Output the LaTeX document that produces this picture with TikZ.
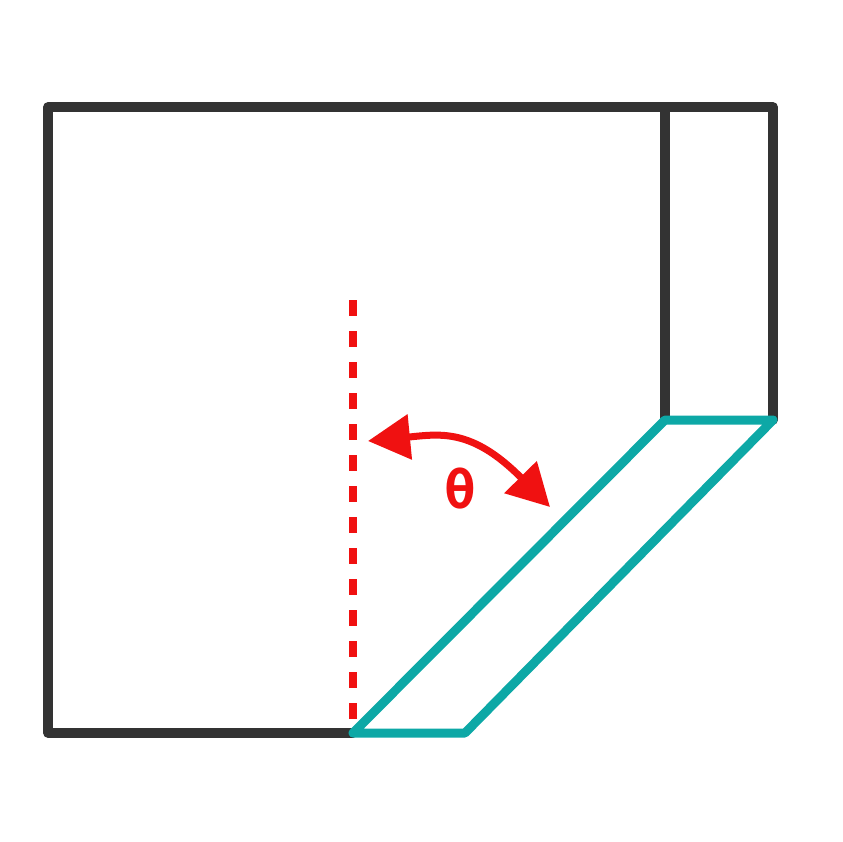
\documentclass[tikz,border=0pt]{standalone}
\usepackage{fontspec}
\newfontfamily\thetafont{DejaVu Sans Mono}
\usetikzlibrary{arrows.meta}
\definecolor{framegray}{RGB}{51,51,51}
\definecolor{stripteal}{RGB}{13,168,166}
\definecolor{anglered}{RGB}{240,17,17}
\tikzset{
  frameline/.style={draw=framegray, line width=0.095cm, line join=round, line cap=round},
  stripline/.style={draw=stripteal, line width=0.09cm, line join=round, line cap=round},
  axisline/.style={draw=anglered, line width=0.08cm, dash pattern=on 0.16cm off 0.15cm},
  anglearrow/.style={draw=anglered, line width=0.07cm, {Triangle[length=0.42cm,width=0.44cm]}-{Triangle[length=0.42cm,width=0.44cm]}},
  anglelabel/.style={text=anglered, font=\thetafont\bfseries\fontsize{15}{15}\selectfont, inner sep=0pt}
}
\begin{document}
\begin{tikzpicture}[x=0.01cm,y=-0.01cm]
\useasboundingbox (0,0) rectangle (842,842);
\coordinate (bl) at (48,733);
\coordinate (tl) at (48,107);
\coordinate (tr) at (773,107);
\coordinate (tm) at (665,107);
\coordinate (hinge) at (353,733);
\coordinate (fl) at (665,420);
\coordinate (fr) at (773,420);
\coordinate (sb) at (465,733);
\coordinate (axtop) at (353,300);
\coordinate (arA) at (368,441);
\coordinate (arB) at (550,507);
% frame
\draw[frameline] (hinge) -- (bl) -- (tl) -- (tr) -- (fr);
\draw[frameline] (tm) -- (fl);
% folded strip
\draw[stripline] (hinge) -- (fl) -- (fr) -- (sb) -- cycle;
% axis
\draw[axisline] (axtop) -- (hinge);
% angle arrow
\draw[anglearrow] (arA) .. controls (440,434) and (472,428) .. (arB);
\node[anglelabel] (theta) at (460,489) {θ};
\end{tikzpicture}
\end{document}
